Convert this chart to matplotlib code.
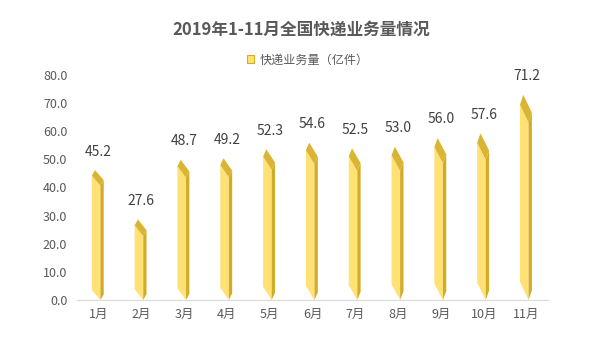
import matplotlib
matplotlib.use("Agg")
import matplotlib.pyplot as plt
from matplotlib.patches import Polygon, Patch

plt.rcParams['font.family'] = ['Noto Sans CJK SC', 'DejaVu Sans']

months = ["1月", "2月", "3月", "4月", "5月", "6月", "7月", "8月", "9月", "10月", "11月"]
volumes = [45.2, 27.6, 48.7, 49.2, 52.3, 54.6, 52.5, 53.0, 56.0, 57.6, 71.2]
y_ticks = [0, 10, 20, 30, 40, 50, 60, 70, 80]
title = "2019年1-11月全国快递业务量情况"
series_name = "快递业务量（亿件）"

FRONT = '#FFE176'
SIDE = '#D2AC26'
TOP = '#DAB534'
TEXT = '#595959'

W, H = 589, 339
fig = plt.figure(figsize=(W / 100, H / 100), dpi=100)
ax = fig.add_axes([77 / W, 39 / H, 471 / W, 225 / H])
ax.set_xlim(-0.5, len(months) - 0.5)
ax.set_ylim(0, 80)
ax.set_xticks(range(len(months)))
ax.set_xticklabels(months)
ax.set_yticks(y_ticks)
ax.set_yticklabels([f"{t:.1f}" for t in y_ticks])
for s in ['top', 'right', 'left']:
    ax.spines[s].set_visible(False)
ax.spines['bottom'].set_color('#D9D9D9')
ax.spines['bottom'].set_linewidth(0.8)
ax.tick_params(axis='both', length=0, colors=TEXT, labelsize=9)
ax.tick_params(axis='x', pad=5.5)
ax.tick_params(axis='y', pad=7)

to_disp = ax.transData
to_data = ax.transData.inverted()


def pts(lst):
    return [to_data.transform(p) for p in lst]


for i, v in enumerate(volumes):
    X, Yv = to_disp.transform((i, v))
    _, Y0 = to_disp.transform((i, 0))
    d = 10 + 0.8 * i
    BL = (X - 3.3, Yv + 0.275 * d)
    FL = (X - 6.6, Yv - 0.275 * d)
    FR = (X + 2.0, Yv - 0.275 * d - d)
    BR = (X + 5.3, Yv + 0.275 * d - d)
    FRb = (X + 2.0, Y0)
    FLb = (X - 6.6, Y0 + d)
    BRb = (X + 5.3, Y0 + 0.55 * d)
    ax.add_patch(Polygon(pts([FL, FR, FRb, FLb]), closed=True, facecolor=FRONT, edgecolor='none', zorder=3))
    ax.add_patch(Polygon(pts([FR, BR, BRb, FRb]), closed=True, facecolor=SIDE, edgecolor='none', zorder=3))
    ax.add_patch(Polygon(pts([BL, BR, FR, FL]), closed=True, facecolor=TOP, edgecolor='none', zorder=4))
    lx, ly = to_data.transform((X, BL[1] + 18.5))
    ax.text(lx, ly, f"{v:.1f}", ha='center', va='center', fontsize=10, color='#404040')

fig.text(301 / W, 1 - 30 / H, title, ha='center', va='center', fontsize=12,
         fontweight='bold', color=TEXT)
fig.legend(handles=[Patch(facecolor=FRONT, edgecolor=SIDE, linewidth=0.8, label=series_name)],
           loc='center', bbox_to_anchor=(308 / W, 1 - 60 / H), frameon=False,
           handlelength=0.6, handleheight=0.6, handletextpad=0.5, fontsize=8.7,
           labelcolor=TEXT, borderpad=0)

fig.savefig("out.png", dpi=100, facecolor='white')
